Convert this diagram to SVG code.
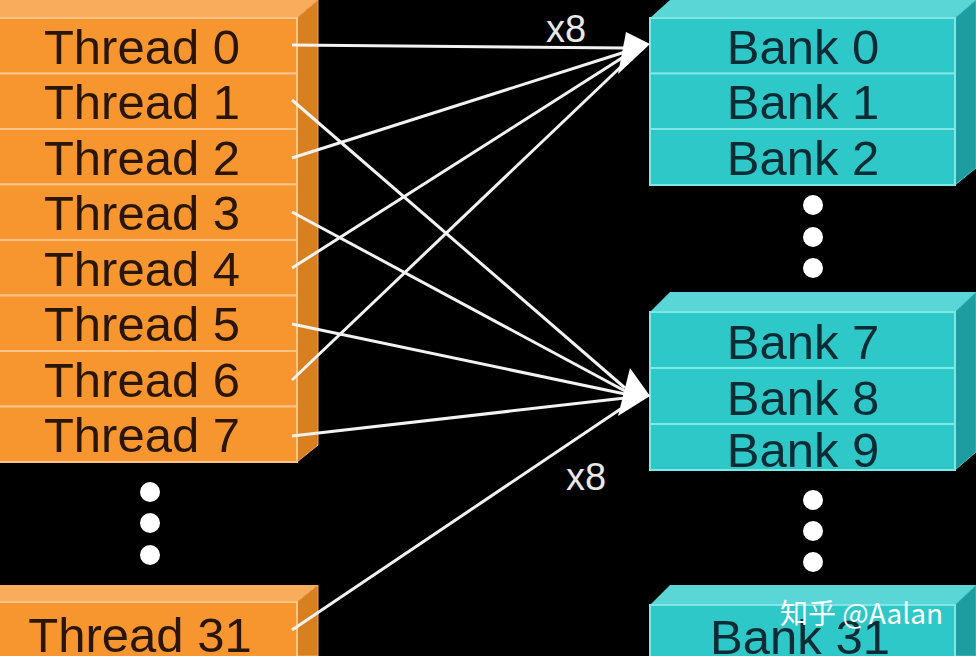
<svg xmlns="http://www.w3.org/2000/svg" width="976" height="656" viewBox="0 0 976 656">
<defs>
<style>
.tf{fill:#f7962e;stroke:#fbc489;stroke-width:2}
.tt{fill:#f9ad5c}
.ts{fill:#d8801f;stroke:#f4a655;stroke-width:1}
.bf{fill:#2ec8c8;stroke:#7fe6e6;stroke-width:2}
.bt{fill:#5ad6d6}
.bs{fill:#1d9d9f;stroke:#49c3c3;stroke-width:1}
.tx{font-family:"Liberation Sans",Arial,sans-serif;font-size:49px;fill:#2a1606;text-anchor:middle}
.bx{font-family:"Liberation Sans",Arial,sans-serif;font-size:49px;fill:#0b2b35;text-anchor:middle}
.dot{fill:#fff}
.ln{stroke:#f2f2f2;stroke-width:3;fill:none}
.lab{font-family:"Liberation Sans",Arial,sans-serif;font-size:38px;fill:#e8e8e8}
</style>
</defs>
<rect width="976" height="656" fill="#000"/>
<g id="threads">
<polygon class="tt" points="0,0 318,0 297,18 0,18"/>
<polygon class="ts" points="297,18 318,0 318,445 297,462"/>
<rect class="tf" x="-2" y="18" width="299" height="55.5"/><text class="tx" x="142" y="64">Thread 0</text>
<rect class="tf" x="-2" y="73.5" width="299" height="55.5"/><text class="tx" x="142" y="119">Thread 1</text>
<rect class="tf" x="-2" y="129" width="299" height="55.5"/><text class="tx" x="142" y="175">Thread 2</text>
<rect class="tf" x="-2" y="184.5" width="299" height="55.5"/><text class="tx" x="142" y="230">Thread 3</text>
<rect class="tf" x="-2" y="240" width="299" height="55.5"/><text class="tx" x="142" y="286">Thread 4</text>
<rect class="tf" x="-2" y="295.5" width="299" height="55.5"/><text class="tx" x="142" y="341">Thread 5</text>
<rect class="tf" x="-2" y="351" width="299" height="55.5"/><text class="tx" x="142" y="397">Thread 6</text>
<rect class="tf" x="-2" y="406.5" width="299" height="55.5"/><text class="tx" x="142" y="452">Thread 7</text>
</g>
<g id="thread-dots"><circle class="dot" cx="150" cy="492" r="10"/><circle class="dot" cx="150" cy="523" r="10"/><circle class="dot" cx="150" cy="555" r="10"/></g>
<g id="thread31">
<polygon class="tt" points="0,585 318,585 297,602 0,602"/>
<polygon class="ts" points="297,602 318,585 318,656 297,656"/>
<rect class="tf" x="-2" y="602" width="299" height="60"/><text class="tx" x="140" y="652">Thread 31</text>
</g>
<g id="banks-a">
<polygon class="bt" points="650,18 670,0 976,0 976,18"/>
<polygon class="bs" points="955,18 976,0 976,168 955,185"/>
<rect class="bf" x="650" y="18" width="305" height="55.5"/><text class="bx" x="803" y="64">Bank 0</text>
<rect class="bf" x="650" y="73.5" width="305" height="55.5"/><text class="bx" x="803" y="119">Bank 1</text>
<rect class="bf" x="650" y="129" width="305" height="56"/><text class="bx" x="803" y="175">Bank 2</text>
</g>
<g id="bank-dots-a"><circle class="dot" cx="813" cy="205" r="10"/><circle class="dot" cx="813" cy="237" r="10"/><circle class="dot" cx="813" cy="268" r="10"/></g>
<g id="banks-b">
<polygon class="bt" points="650,312 670,292 976,292 976,312"/>
<polygon class="bs" points="955,312 976,292 976,452 955,470"/>
<rect class="bf" x="650" y="312" width="305" height="56"/><text class="bx" x="803" y="359">Bank 7</text>
<rect class="bf" x="650" y="368" width="305" height="56"/><text class="bx" x="803" y="415">Bank 8</text>
<rect class="bf" x="650" y="424" width="305" height="46"/><text class="bx" x="803" y="467">Bank 9</text>
</g>
<g id="bank-dots-b"><circle class="dot" cx="813" cy="500" r="10"/><circle class="dot" cx="813" cy="531" r="10"/><circle class="dot" cx="813" cy="562" r="10"/></g>
<g id="bank31">
<polygon class="bt" points="650,605 670,585 976,585 976,605"/>
<polygon class="bs" points="955,605 976,585 976,656 955,656"/>
<rect class="bf" x="650" y="605" width="305" height="60"/><text class="bx" x="800" y="654">Bank 31</text>
</g>
<g id="connectors">
<line class="ln" x1="292" y1="45" x2="625" y2="48"/>
<line class="ln" x1="292" y1="158" x2="625" y2="52"/>
<line class="ln" x1="292" y1="268" x2="625" y2="56"/>
<line class="ln" x1="292" y1="380" x2="628" y2="60"/>
<line class="ln" x1="292" y1="100" x2="625" y2="388"/>
<line class="ln" x1="292" y1="212" x2="625" y2="391"/>
<line class="ln" x1="292" y1="324" x2="625" y2="394"/>
<line class="ln" x1="292" y1="436" x2="625" y2="398"/>
<line class="ln" x1="292" y1="630" x2="628" y2="404"/>
<polygon fill="#fff" points="650,44 626,32 618,74"/>
<polygon fill="#fff" points="650,396 630,368 618,416"/>
<text class="lab" x="546" y="42">x8</text>
<text class="lab" x="566" y="490">x8</text>
</g>
<text x="780" y="624" font-family="'Noto Sans CJK SC',sans-serif" font-size="28" fill="#fff">知乎 @Aalan</text>
</svg>
